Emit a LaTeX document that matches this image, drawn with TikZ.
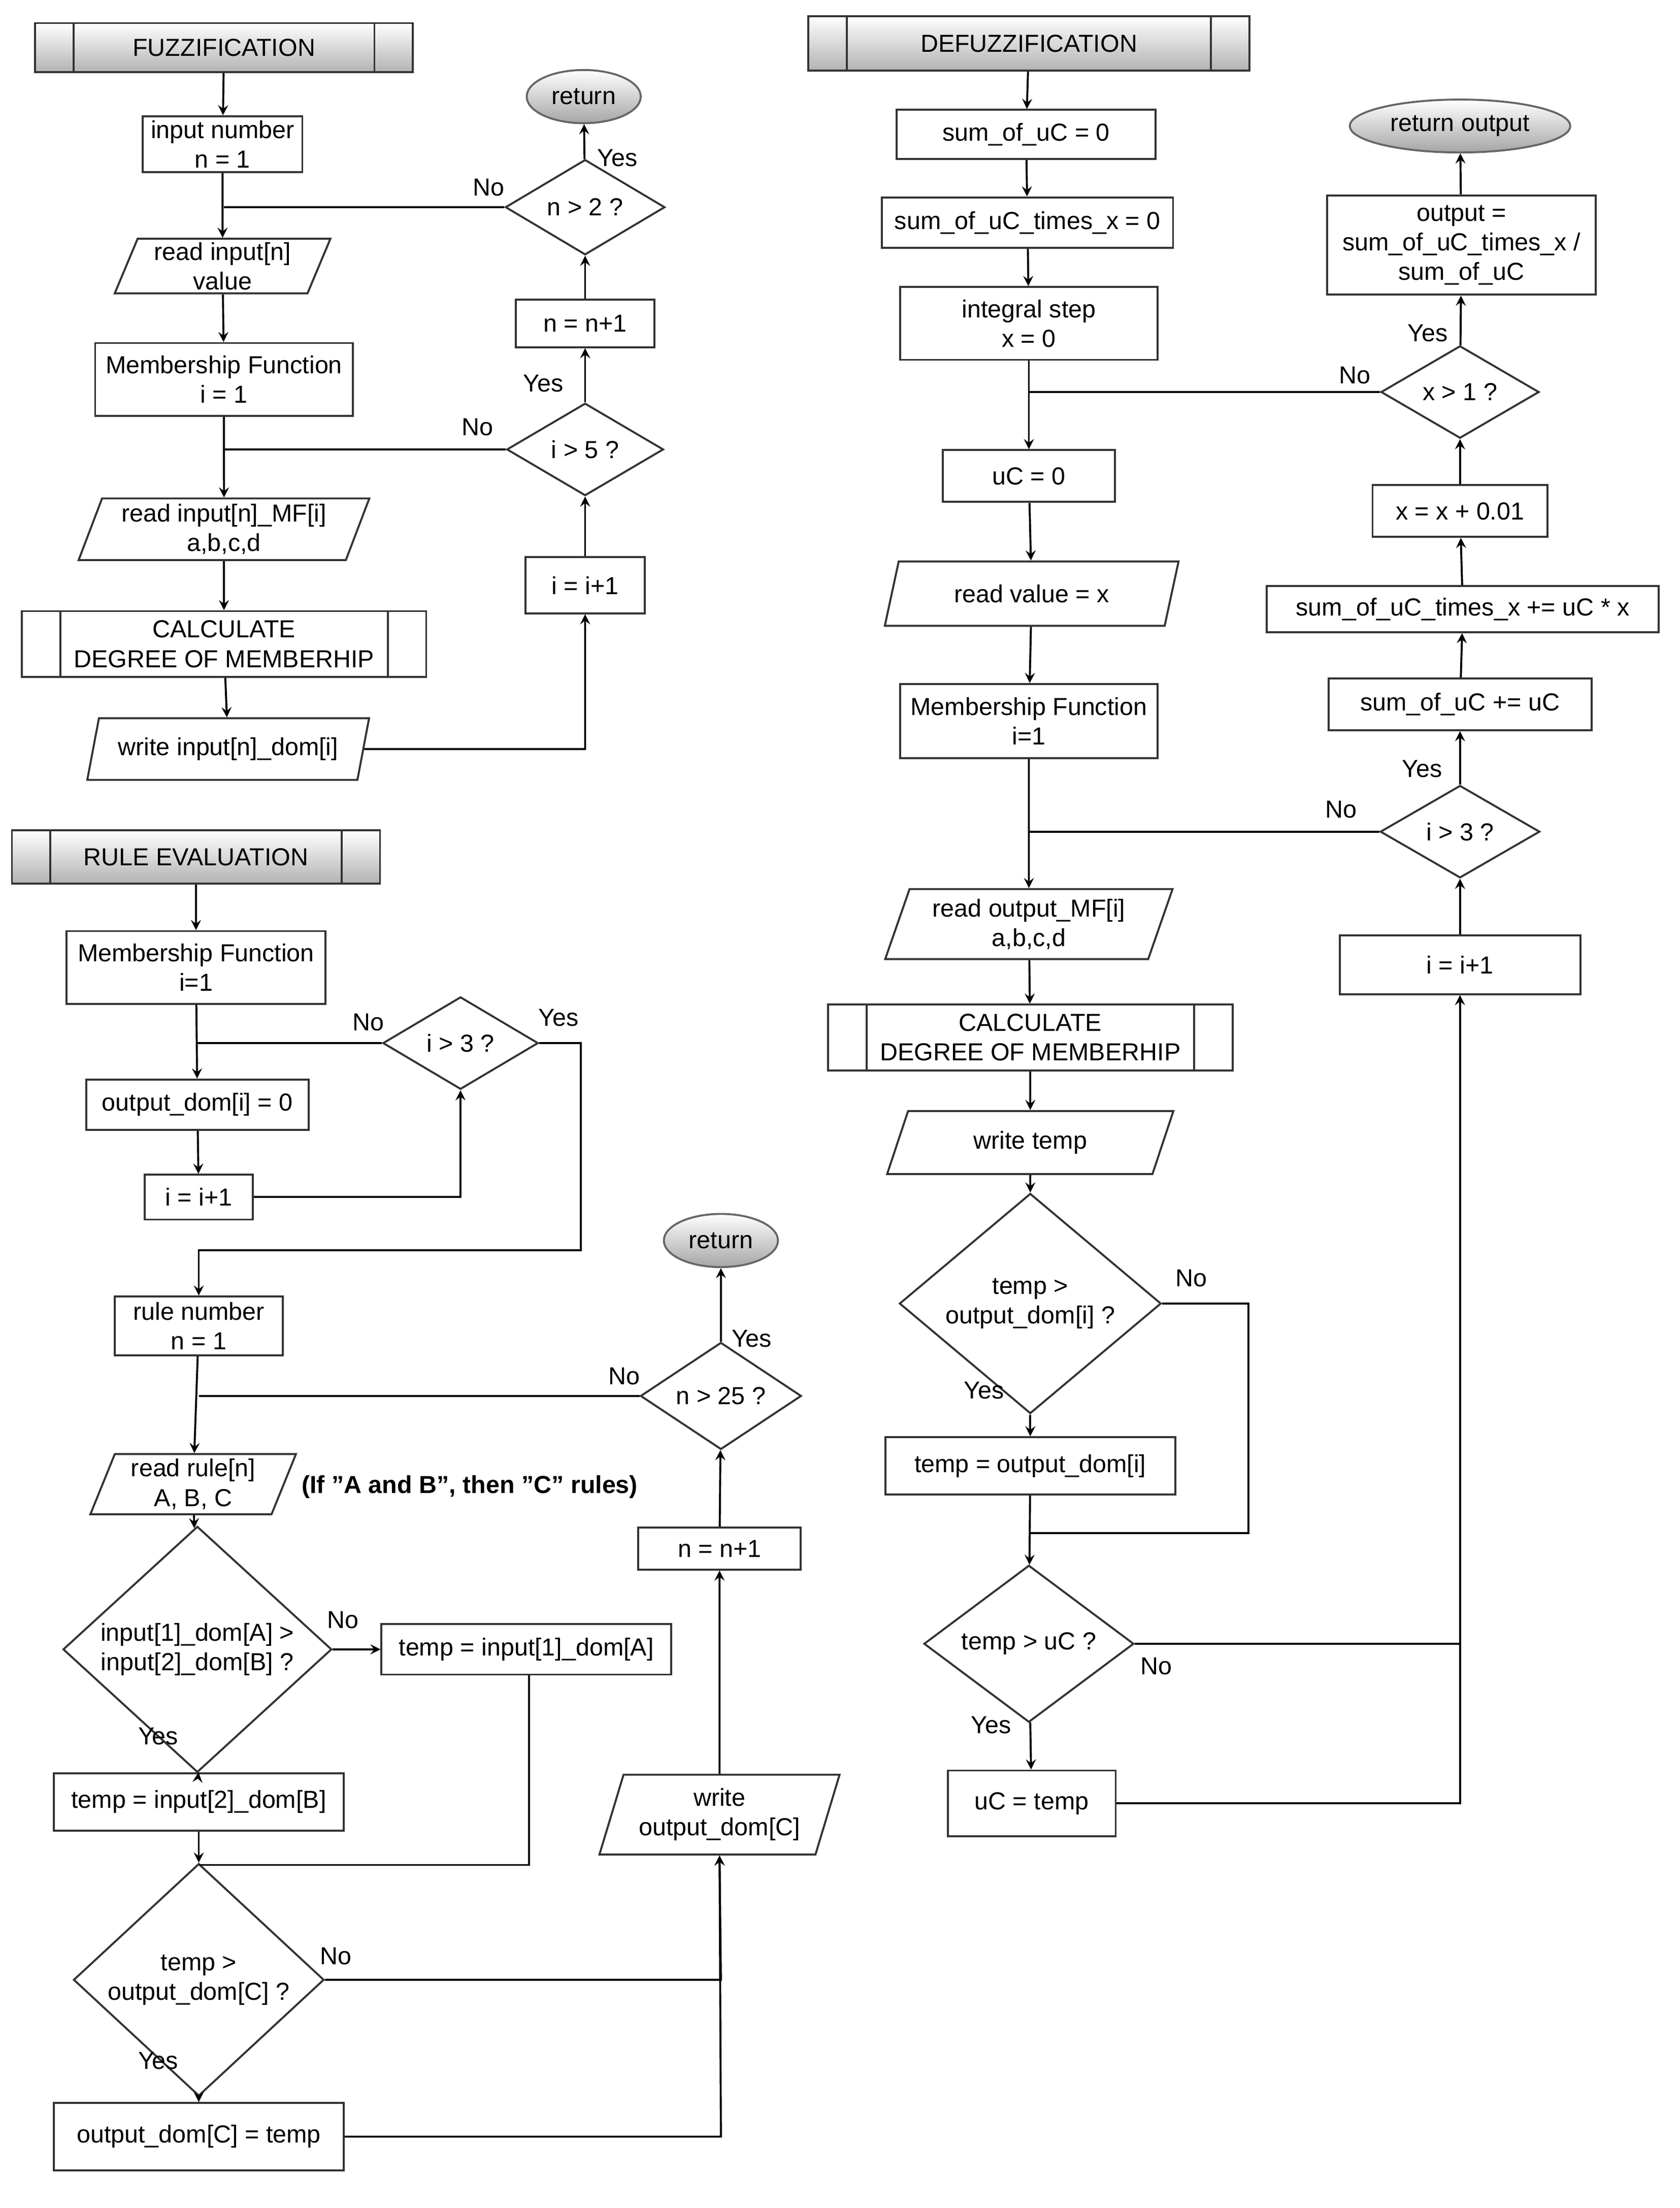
\documentclass[tikz,border=0pt]{standalone}
\usepackage{fontspec}
\setmainfont{Liberation Sans}
\usetikzlibrary{shapes.geometric,positioning}
\begin{document}
\begin{tikzpicture}[x=0.02cm,y=-0.02cm,line width=0.8pt]
  \tikzstyle{basenode} = [rectangle, draw=black!80, align=center, inner sep=1pt]
  \tikzstyle{io} = [trapezium, trapezium left angle=70, trapezium right angle=110, trapezium stretches=true, draw=black!80, align=center, inner sep=1pt]
  \tikzstyle{dec} = [diamond, draw=black!80, align=center, inner sep=0pt]
  \tikzstyle{term} = [ellipse, draw=black!60, top color=white, bottom color=black!35, align=center]
  \tikzstyle{sub} = [basenode, path picture={
      \draw ([xshift=0.55cm]path picture bounding box.north west) -- ([xshift=0.55cm]path picture bounding box.south west);
      \draw ([xshift=-0.55cm]path picture bounding box.north east) -- ([xshift=-0.55cm]path picture bounding box.south east);}]
  \tikzstyle{head} = [sub, top color=white, bottom color=black!30]
  \tikzstyle{lbl} = [inner sep=1pt]
  \tikzstyle{arrow} = [->,>=stealth]
  \useasboundingbox (0,0) rectangle (1200,1577);

  % fuzzification
  \node (fzHead) [head, minimum width=5.4cm, minimum height=0.7cm] at (160,34) {FUZZIFICATION};
  \node (fzInput) [basenode, minimum width=2.28cm, minimum height=0.8cm] at (159,103) {input number\\n = 1};
  \node (fzRead) [io, minimum width=3.1cm, minimum height=0.78cm] at (159,190) {read input[n]\\value};
  \node (fzMF) [basenode, minimum width=3.68cm, minimum height=1.04cm] at (160,271) {Membership Function\\i = 1};
  \node (fzReadMF) [io, minimum width=4.16cm, minimum height=0.88cm] at (160,378) {read input[n]\_MF[i]\\a,b,c,d};
  \node (fzCalc) [sub, minimum width=5.78cm, minimum height=0.94cm] at (160,460) {CALCULATE\\DEGREE OF MEMBERHIP};
  \node (fzWrite) [io, minimum width=4.04cm, minimum height=0.88cm] at (163,535) {write input[n]\_dom[i]};
  \node (fzIinc) [basenode, minimum width=1.7cm, minimum height=0.8cm] at (418,418) {i = i+1};
  \node (fzIdec) [dec, minimum width=2.24cm, minimum height=1.32cm] at (418,321) {i > 5 ?};
  \node (fzNinc) [basenode, minimum width=1.98cm, minimum height=0.68cm] at (418,231) {n = n+1};
  \node (fzNdec) [dec, minimum width=2.28cm, minimum height=1.36cm] at (418,148) {n > 2 ?};
  \node (fzRet) [term, minimum width=1.3cm, minimum height=0.76cm] at (417,69) {return};
  \coordinate (fzJ1) at (160,148);
  \coordinate (fzJ2) at (160,321);
  \coordinate (fzJ3) at (418,535);

  \draw [arrow] (fzHead) -- (fzInput);
  \draw [arrow] (fzInput) -- (fzRead);
  \draw [arrow] (fzRead) -- (fzMF);
  \draw [arrow] (fzMF) -- (fzReadMF);
  \draw [arrow] (fzReadMF) -- (fzCalc);
  \draw [arrow] (fzCalc) -- (fzWrite);
  \draw [arrow] (fzWrite.east) -- (fzJ3) -- (fzIinc);
  \draw [arrow] (fzIinc) -- (fzIdec);
  \draw [arrow] (fzIdec) -- (fzNinc);
  \draw [arrow] (fzNinc) -- (fzNdec);
  \draw [arrow] (fzNdec) -- (fzRet);
  \draw (fzNdec.west) -- (fzJ1);
  \draw (fzIdec.west) -- (fzJ2);
  \node [lbl] at (388,274) {Yes};
  \node [lbl] at (441,113) {Yes};
  \node [lbl] at (349,134) {No};
  \node [lbl] at (341,305) {No};

  % rule evaluation
  \node (reHead) [head, minimum width=5.26cm, minimum height=0.76cm] at (140,612) {RULE EVALUATION};
  \node (reMF) [basenode, minimum width=3.7cm, minimum height=1.04cm] at (140,691) {Membership Function\\i=1};
  \node (reIdec) [dec, minimum width=2.22cm, minimum height=1.32cm] at (329,745) {i > 3 ?};
  \node (reZero) [basenode, minimum width=3.18cm, minimum height=0.72cm] at (141,789) {output\_dom[i] = 0};
  \node (reIinc) [basenode, minimum width=1.54cm, minimum height=0.64cm] at (142,855) {i = i+1};
  \node (reRule) [basenode, minimum width=2.4cm, minimum height=0.84cm] at (142,947) {rule number\\n = 1};
  \node (reNdec) [dec, minimum width=2.3cm, minimum height=1.38cm] at (515,997) {n > 25 ?};
  \node (reRet) [term, minimum width=1.4cm, minimum height=0.76cm] at (515,886) {return};
  \node (reRead) [io, minimum width=2.96cm, minimum height=0.86cm] at (138,1060) {read rule[n]\\A, B, C};
  \node [lbl, anchor=west, font=\bfseries] at (213,1062) {(If "A and B", then "C" rules)};
  \node (reCmp) [dec, minimum width=3.84cm, minimum height=2.26cm] at (141,1178) {input[1]\_dom[A] >\\input[2]\_dom[B] ?};
  \node (reTmpA) [basenode, minimum width=4.14cm, minimum height=0.72cm] at (376,1178) {temp = input[1]\_dom[A]};
  \node (reTmpB) [basenode, minimum width=4.14cm, minimum height=0.82cm] at (142,1287) {temp = input[2]\_dom[B]};
  \node (reCmpC) [dec, minimum width=3.58cm, minimum height=2.1cm] at (142,1414) {temp >\\output\_dom[C] ?};
  \node (reSet) [basenode, minimum width=4.14cm, minimum height=0.96cm] at (142,1526) {output\_dom[C] = temp};
  \node (reWrite) [io, minimum width=3.44cm, minimum height=1.14cm] at (514,1296) {write\\output\_dom[C]};
  \node (reNinc) [basenode, minimum width=2.32cm, minimum height=0.6cm] at (514,1106) {n = n+1};
  \coordinate (reJ1) at (141,745);
  \coordinate (reJ2) at (329,855);
  \coordinate (reJ3) at (415,745);
  \coordinate (reJ4) at (415,893);
  \coordinate (reJ5) at (142,893);
  \coordinate (reJ6) at (142,997);
  \coordinate (reJ7) at (378,1332);
  \coordinate (reJ8) at (142,1332);
  \coordinate (reJ9) at (515,1414);
  \coordinate (reJ10) at (515,1526);

  \draw [arrow] (reHead) -- (reMF);
  \draw [arrow] (reMF) -- (reZero);
  \draw (reIdec.west) -- (reJ1);
  \draw [arrow] (reZero) -- (reIinc);
  \draw [arrow] (reIinc.east) -- (reJ2) -- (reIdec.south);
  \draw [arrow] (reIdec.east) -- (reJ3) -- (reJ4) -- (reJ5) -- (reRule);
  \draw [arrow] (reRule) -- (reRead);
  \draw (reNdec.west) -- (reJ6);
  \draw [arrow] (reNdec) -- (reRet);
  \draw [arrow] (reRead) -- (reCmp);
  \draw [arrow] (reCmp) -- (reTmpA);
  \draw [arrow] (reCmp) -- (reTmpB);
  \draw (reTmpA.south -| reJ7) -- (reJ7) -- (reJ8);
  \draw [arrow] (reTmpB) -- (reCmpC);
  \draw [arrow] (reCmpC.east) -- (reJ9) -- (reWrite.south);
  \draw [arrow] (reCmpC) -- (reSet);
  \draw [arrow] (reSet.east) -- (reJ10) -- (reWrite.south);
  \draw [arrow] (reWrite) -- (reNinc);
  \draw [arrow] (reNinc) -- (reNdec);
  \node [lbl] at (263,730) {No};
  \node [lbl] at (399,727) {Yes};
  \node [lbl] at (446,983) {No};
  \node [lbl] at (537,956) {Yes};
  \node [lbl] at (245,1157) {No};
  \node [lbl] at (113,1240) {Yes};
  \node [lbl] at (240,1397) {No};
  \node [lbl] at (113,1472) {Yes};

  % defuzzification
  \node (dfHead) [head, minimum width=6.3cm, minimum height=0.78cm] at (735,31) {DEFUZZIFICATION};
  \node (dfSum) [basenode, minimum width=3.7cm, minimum height=0.7cm] at (733,96) {sum\_of\_uC = 0};
  \node (dfSumX) [basenode, minimum width=4.16cm, minimum height=0.72cm] at (734,159) {sum\_of\_uC\_times\_x = 0};
  \node (dfStep) [basenode, minimum width=3.68cm, minimum height=1.04cm] at (735,231) {integral step\\x = 0};
  \node (dfUc) [basenode, minimum width=2.46cm, minimum height=0.74cm] at (735,340) {uC = 0};
  \node (dfRead) [io, minimum width=4.2cm, minimum height=0.92cm] at (737,424) {read value = x};
  \node (dfMF) [basenode, minimum width=3.68cm, minimum height=1.06cm] at (735,515) {Membership Function\\i=1};
  \node (dfReadMF) [io, minimum width=4.12cm, minimum height=1cm] at (735,660) {read output\_MF[i]\\a,b,c,d};
  \node (dfCalc) [sub, minimum width=5.78cm, minimum height=0.94cm] at (736,741) {CALCULATE\\DEGREE OF MEMBERHIP};
  \node (dfWrite) [io, minimum width=4.1cm, minimum height=0.9cm] at (736,816) {write temp};
  \node (dfCmp) [dec, minimum width=3.74cm, minimum height=2.26cm] at (736,931) {temp >\\output\_dom[i] ?};
  \node (dfTmp) [basenode, minimum width=4.14cm, minimum height=0.82cm] at (736,1047) {temp = output\_dom[i]};
  \node (dfCmpU) [dec, minimum width=3cm, minimum height=1.84cm] at (735,1174) {temp > uC ?};
  \node (dfSet) [basenode, minimum width=2.4cm, minimum height=0.94cm] at (737,1288) {uC = temp};
  \node (dfIinc) [basenode, minimum width=3.44cm, minimum height=0.84cm] at (1043,689) {i = i+1};
  \node (dfIdec) [dec, minimum width=2.28cm, minimum height=1.32cm] at (1043,594) {i > 3 ?};
  \node (dfAdd) [basenode, minimum width=3.76cm, minimum height=0.74cm] at (1043,503) {sum\_of\_uC += uC};
  \node (dfAddX) [basenode, minimum width=5.6cm, minimum height=0.66cm] at (1045,435) {sum\_of\_uC\_times\_x += uC * x};
  \node (dfXinc) [basenode, minimum width=2.5cm, minimum height=0.74cm] at (1043,365) {x = x + 0.01};
  \node (dfXdec) [dec, minimum width=2.26cm, minimum height=1.32cm] at (1043,280) {x > 1 ?};
  \node (dfOut) [basenode, minimum width=3.84cm, minimum height=1.42cm] at (1044,175) {output =\\sum\_of\_uC\_times\_x /\\sum\_of\_uC};
  \node (dfRet) [term, minimum width=2.24cm, minimum height=0.72cm] at (1043,90) {return output};
  \coordinate (dfJ1) at (735,280);
  \coordinate (dfJ2) at (735,594);
  \coordinate (dfJ3) at (892,931);
  \coordinate (dfJ4) at (892,1095);
  \coordinate (dfJ5) at (736,1095);
  \coordinate (dfJ6) at (1043,1174);
  \coordinate (dfJ7) at (1043,1288);

  \draw [arrow] (dfHead) -- (dfSum);
  \draw [arrow] (dfSum) -- (dfSumX);
  \draw [arrow] (dfSumX) -- (dfStep);
  \draw [arrow] (dfStep) -- (dfUc);
  \draw (dfXdec.west) -- (dfJ1);
  \draw [arrow] (dfUc) -- (dfRead);
  \draw [arrow] (dfRead) -- (dfMF);
  \draw [arrow] (dfMF) -- (dfReadMF);
  \draw (dfIdec.west) -- (dfJ2);
  \draw [arrow] (dfReadMF) -- (dfCalc);
  \draw [arrow] (dfCalc) -- (dfWrite);
  \draw [arrow] (dfWrite) -- (dfCmp);
  \draw [arrow] (dfCmp) -- (dfTmp);
  \draw (dfCmp.east) -- (dfJ3) -- (dfJ4) -- (dfJ5);
  \draw [arrow] (dfTmp) -- (dfCmpU);
  \draw [arrow] (dfCmpU.east) -- (dfJ6) -- (dfIinc);
  \draw [arrow] (dfCmpU) -- (dfSet);
  \draw (dfSet.east) -- (dfJ7) -- (dfJ6);
  \draw [arrow] (dfIinc) -- (dfIdec);
  \draw [arrow] (dfIdec) -- (dfAdd);
  \draw [arrow] (dfAdd) -- (dfAddX);
  \draw [arrow] (dfAddX) -- (dfXinc);
  \draw [arrow] (dfXinc) -- (dfXdec);
  \draw [arrow] (dfXdec) -- (dfOut);
  \draw [arrow] (dfOut) -- (dfRet);
  \node [lbl] at (968,268) {No};
  \node [lbl] at (1020,238) {Yes};
  \node [lbl] at (958,578) {No};
  \node [lbl] at (1016,549) {Yes};
  \node [lbl] at (851,913) {No};
  \node [lbl] at (703,993) {Yes};
  \node [lbl] at (826,1190) {No};
  \node [lbl] at (708,1232) {Yes};
\end{tikzpicture}
\end{document}
